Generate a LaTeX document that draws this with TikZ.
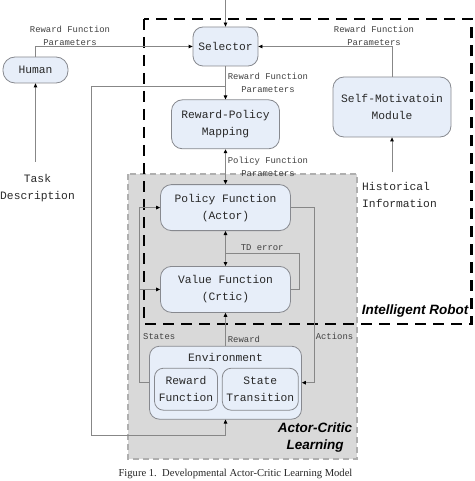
\documentclass[tikz,border=0pt]{standalone}
\usepackage{fontspec}
\setmainfont{Liberation Serif}
\setsansfont{Liberation Sans}
\setmonofont{Liberation Mono}
\usepackage{tikz}
\usetikzlibrary{arrows.meta,positioning}
\definecolor{boxblue}{RGB}{231,238,249}
\definecolor{boxedge}{RGB}{135,137,143}
\definecolor{linegray}{RGB}{135,135,135}
\definecolor{acgray}{RGB}{217,217,217}
\definecolor{acedge}{RGB}{175,175,175}
\definecolor{textgray}{RGB}{40,40,40}
\definecolor{lblgray}{RGB}{65,65,65}
\tikzset{
  robobox/.style={
    rectangle,
    rounded corners=11pt,
    draw=boxedge,
    line width=0.8pt,
    fill=boxblue,
    align=center,
    inner sep=2pt,
    text=textgray,
    font=\fontsize{11.3}{17}\selectfont\ttfamily
  },
  robotext/.style={
    align=center,
    inner sep=2pt,
    text=textgray,
    font=\fontsize{11.3}{17}\selectfont\ttfamily
  },
  flowlbl/.style={
    align=center,
    inner sep=2pt,
    text=lblgray,
    font=\fontsize{8.9}{13}\selectfont\ttfamily
  },
  bigtag/.style={
    align=center,
    inner sep=0pt,
    font=\fontsize{13.5}{17}\selectfont\sffamily\bfseries\itshape
  },
  flowline/.style={
    draw=linegray,
    line width=0.8pt
  },
  flowarrow/.style={
    flowline,
    -{Triangle[length=4pt,width=3.6pt,color=black]}
  },
  flowboth/.style={
    flowline,
    {Triangle[length=4pt,width=3.6pt,color=black]}-{Triangle[length=4pt,width=3.6pt,color=black]}
  }
}

\begin{document}
\begin{tikzpicture}[x=1pt,y=-1pt]
\useasboundingbox (0,0) rectangle (474,481);

% Actor-Critic region and Intelligent Robot frame
\draw[fill=acgray, draw=acedge, line width=1.2pt, dash pattern=on 6pt off 4pt] (128,174) rectangle (357,459);
\draw[black, line width=2.6pt, dash pattern=on 11pt off 7pt] (144,19) rectangle (471.5,324);
\node[bigtag] (aclearn) at (315,437.5) {Actor-Critic\\Learning};
\node[bigtag] (robot) at (415,311) {Intelligent Robot};

\node[robobox, minimum width=65pt, minimum height=39pt, rounded corners=10pt] (selector) at (225.5,46.5) {Selector};
\node[robobox, minimum width=65pt, minimum height=26pt, rounded corners=12pt] (human) at (35.5,70) {Human};
\node[robobox, minimum width=108pt, minimum height=49pt, below=33pt of selector] (mapping) {Reward-Policy\\Mapping};
\node[robobox, minimum width=118pt, minimum height=60pt] (selfmot) at (392,107) {Self-Motivatoin\\Module};
\node[robobox, minimum width=130pt, minimum height=46pt, below=35pt of mapping] (policy) {Policy Function\\(Actor)};
\node[robobox, minimum width=130pt, minimum height=46pt, below=35pt of policy] (value) {Value Function\\(Crtic)};
\node[robobox, minimum width=152pt, minimum height=73pt, rounded corners=10pt, below=33pt of value,
  label={[robotext, anchor=north, inner sep=0pt, yshift=-7pt]north:Environment}] (env) {};
\node[robobox, minimum width=63pt, minimum height=42pt, rounded corners=9pt, above right=9pt and 5pt of env.south west] (rewfun) {Reward\\Function};
\node[robobox, minimum width=76pt, minimum height=42pt, rounded corners=9pt, right=4pt of rewfun] (statetr) {State\\Transition};

\node[robotext] (task) at (37.5,188.5) {Task\\Description};
\node[robotext, align=left, anchor=north west] (hist) at (360,180) {Historical\\Information};

\node[flowlbl] (humanpar) at (70,35.5) {Reward Function\\Parameters};
\node[flowlbl] (selfpar) at (374,35.5) {Reward Function\\Parameters};
\node[flowlbl, anchor=west] (states) at (141,337) {States};
\node[flowlbl] (actions) at (334.5,336) {Actions};

\coordinate (topin) at (225.5,0);
\coordinate (fbj) at (225.5,86);
\coordinate (fbl) at (91,435);
\coordinate (tdj) at (225.5,253);

\draw[flowarrow] (selector.north |- topin) -- (selector.north);
\draw[flowarrow] (human.north) |- (selector.west);
\draw[flowarrow] (selfmot.north) |- (selector.east);
\draw[flowarrow] ([yshift=11pt]task.north -| human.south) -- (human.south);
\draw[flowarrow] ([yshift=8pt]hist.north -| selfmot.south) -- (selfmot.south);
\draw[flowarrow] (selector) -- node[flowlbl, right] {Reward Function\\Parameters} (mapping);
\draw[flowboth] (mapping) -- node[flowlbl, right] {Policy Function\\Parameters} (policy);
\draw[flowboth] (policy) -- (value);
\draw[flowline] (value.east) -- ++(8,0) |- node[flowlbl, above, pos=0.75] {TD error} (tdj);
\draw[flowarrow] (env) -- node[flowlbl, right, pos=0.2] {Reward} (value);
\draw[flowarrow] (env.west) -- ++(-10,0) coordinate (sbend) |- (policy.west);
\draw[flowarrow] (sbend |- value.west) -- (value.west);
\draw[flowarrow] (policy.east) -- ++(23,0) |- (env.east);
\draw[flowarrow] (fbj) -| (fbl) -| (env.south);

\node[font=\fontsize{10.6}{12}\selectfont, text=black!85] (caption) at (235.5,474) {Figure 1.\ \ Developmental Actor-Critic Learning Model};
\end{tikzpicture}
\end{document}
